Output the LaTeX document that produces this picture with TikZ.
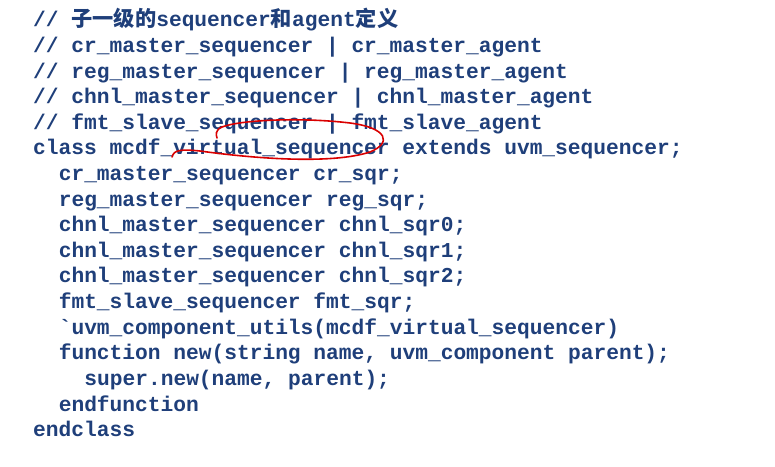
\documentclass[tikz,border=0pt]{standalone}
\usepackage{fontspec}
\setmonofont{Liberation Mono}
\newfontfamily\cjk{Noto Sans CJK SC}
\definecolor{codeblue}{HTML}{1F3F7A}
\begin{document}
\begin{tikzpicture}[x=1bp,y=-1bp,
  code/.style={anchor=base west,inner sep=0pt,text=codeblue,font=\fontsize{21.3}{25}\ttfamily\bfseries},
  redmark/.style={draw=red!85!black,line width=1.6pt,line cap=round}]
\useasboundingbox (0,0) rectangle (775,467);
\node[code] (l1) at (33,27) {// {\cjk\bfseries 子一级的}sequencer{\cjk\bfseries 和}agent{\cjk\bfseries 定义}};
\node[code] (l2) at (33,52.6) {// cr\_master\_sequencer | cr\_master\_agent};
\node[code] (l3) at (33,78.2) {// reg\_master\_sequencer | reg\_master\_agent};
\node[code] (l4) at (33,103.8) {// chnl\_master\_sequencer | chnl\_master\_agent};
\node[code] (l5) at (33,129.4) {// fmt\_slave\_sequencer | fmt\_slave\_agent};
\node[code] (l6) at (33,155) {class mcdf\_virtual\_sequencer extends uvm\_sequencer;};
\node[code] (l7) at (58.6,180.6) {cr\_master\_sequencer cr\_sqr;};
\node[code] (l8) at (58.6,206.2) {reg\_master\_sequencer reg\_sqr;};
\node[code] (l9) at (58.6,231.8) {chnl\_master\_sequencer chnl\_sqr0;};
\node[code] (l10) at (58.6,257.4) {chnl\_master\_sequencer chnl\_sqr1;};
\node[code] (l11) at (58.6,283) {chnl\_master\_sequencer chnl\_sqr2;};
\node[code] (l12) at (58.6,308.6) {fmt\_slave\_sequencer fmt\_sqr;};
\node[code] (l13) at (58.6,334.2) {`uvm\_component\_utils(mcdf\_virtual\_sequencer)};
\node[code] (l14) at (58.6,359.8) {function new(string name, uvm\_component parent);};
\node[code] (l15) at (84.2,385.4) {super.new(name, parent);};
\node[code] (l16) at (58.6,411) {endfunction};
\node[code] (l17) at (33,436.6) {endclass};
\draw[redmark] (172,157) .. controls (174,150) and (180,149) .. (200,151)
  .. controls (250,158) and (330,165) .. (370,152)
  .. controls (392,143) and (388,128) .. (350,123)
  .. controls (300,117) and (240,120) .. (222,127)
  .. controls (215,130) and (216,135) .. (217,138);
\end{tikzpicture}
\end{document}
